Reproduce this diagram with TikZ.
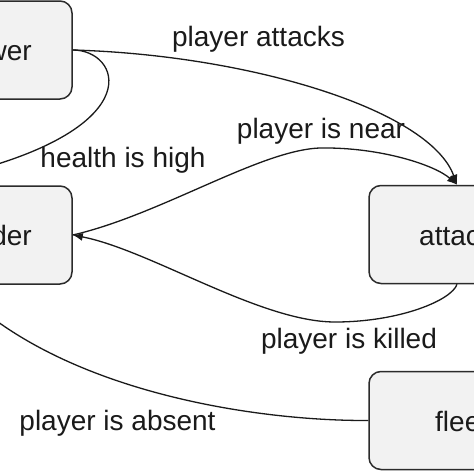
\documentclass[tikz,border=0pt]{standalone}
\usepackage{fontspec}
\setmainfont{Liberation Sans}
\usetikzlibrary{arrows.meta}
\definecolor{boxfill}{HTML}{F2F2F2}
\definecolor{boxline}{HTML}{2B2B2B}
\definecolor{inkc}{HTML}{1A1A1A}
\tikzset{
  statebox/.style={draw=boxline, fill=boxfill, line width=1.5pt, rounded corners=12pt,
    minimum width=176pt, minimum height=98pt, inner sep=0pt},
  statetext/.style={inner sep=0pt, text=inkc, font=\fontsize{28}{32}\selectfont},
  lbl/.style={inner sep=0pt, text=inkc, font=\fontsize{28}{32}\selectfont, anchor=base},
  conn/.style={draw=inkc, line width=1.3pt},
  tip/.style={-{Latex[length=10pt,width=8pt]}}
}
\begin{document}
\begin{tikzpicture}[x=1pt,y=-1pt]
\useasboundingbox (0,0) rectangle (474,474);
\clip (0,0) rectangle (474,474);
\fill[white] (0,0) rectangle (474,474);
% boxes
\node[statebox] (top) at (-16,50) {};
\node[statebox] (der) at (-16,235) {};
\node[statebox] (att) at (457,234.5) {};
\node[statebox] (flee) at (457,420.5) {};
% box texts (visible parts)
\node[statetext, anchor=base east] (topT) at (32,60) {wer};
\node[statetext, anchor=base east] (derT) at (32,245) {der};
\node[statetext, anchor=base west] (attT) at (419,245) {attac};
\node[statetext, anchor=base west] (fleeT) at (435,431) {flee};
% off-canvas ends and bends
\coordinate (hOut) at (-30,172);
\coordinate (aOut) at (-40,290);
\coordinate (kMid) at (335,322);
\coordinate (nPeak) at (320,148);
% connectors
\draw[conn, tip] (top.east) .. controls (250,55) and (430,110) .. (att.north);
\draw[conn] (top.east) .. controls (120,50) and (150,125) .. (hOut);
\draw[conn, tip] (der.east) .. controls (160,215) and (260,150) .. (nPeak)
   .. controls (380,147) and (435,165) .. (att.north);
\draw[conn, tip] (att.south) .. controls (452,300) and (400,322) .. (kMid)
   .. controls (260,322) and (150,250) .. (der.east);
\draw[conn] (flee.west) .. controls (250,421) and (60,390) .. (aOut);
% labels
\node[lbl] (l1) at (258.5,46) {player attacks};
\node[lbl] (l2) at (321,138) {player is near};
\node[lbl] (l3) at (123,167) {health is high};
\node[lbl] (l4) at (349,348) {player is killed};
\node[lbl] (l5) at (117.5,430) {player is absent};
\end{tikzpicture}
\end{document}
